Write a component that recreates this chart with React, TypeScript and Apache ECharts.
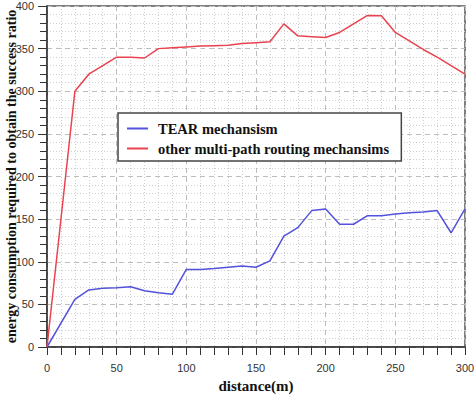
import React, { useEffect, useRef } from "react";
import * as echarts from "echarts";

const distances = [0, 20, 30, 40, 50, 60, 70, 80, 90, 100, 110, 120, 130, 140, 150, 160, 170, 180, 190, 200, 210, 220, 230, 240, 250, 260, 270, 280, 290, 300];
const tearValues = [0, 56, 67, 68.8, 69.6, 70.7, 66, 63.5, 62, 91, 91, 92, 93.5, 95, 93.5, 101, 130, 140, 160, 162, 144, 144, 154, 154, 156, 157.5, 158.5, 160, 134, 162];
const otherValues = [0, 300, 320, 330, 340, 340, 339, 350, 351, 352, 353, 353.5, 354, 356, 357, 358, 379, 365, 364, 363, 369, 379, 389, 388.5, 369, 359, 349, 340, 330, 320];
const seriesNames = ["TEAR mechansism", "other multi-path routing mechansims"];
const xTitle = "distance(m)";
const yTitle = "energy consumption required to obtain the success ratio";

export default function App() {
  const ref = useRef<HTMLDivElement>(null);
  useEffect(() => {
    if (!ref.current) return;
    const chart = echarts.init(ref.current, null, { renderer: "svg" });
    const labelStyle = { fontFamily: "Liberation Sans", fontSize: 11, color: "#333" };
    const nameStyle = { fontFamily: "Liberation Serif", fontWeight: "bold" as const, color: "#111" };
    chart.setOption({
      animation: false,
      backgroundColor: "#fff",
      grid: {
        left: 47,
        right: 9,
        top: 6,
        bottom: 50,
        containLabel: false,
        outerBoundsMode: "none",
        show: true,
        borderColor: "#555",
        borderWidth: 1.5,
        backgroundColor: "transparent",
      },
      legend: {
        show: true,
        orient: "vertical",
        left: 118,
        top: 113,
        padding: [8, 12, 5, 9],
        itemGap: 5,
        itemWidth: 21,
        itemHeight: 2,
        icon: "rect",
        backgroundColor: "#fff",
        borderColor: "#444",
        borderWidth: 1.5,
        borderRadius: 0,
        textStyle: { fontFamily: "Liberation Serif", fontWeight: "bold", fontSize: 14.5, color: "#111", padding: [0, 0, 0, 5] },
        data: seriesNames,
      },
      xAxis: {
        type: "value",
        min: 0,
        max: 300,
        interval: 50,
        name: xTitle,
        nameLocation: "middle",
        nameGap: 31,
        nameMoveOverlap: false,
        nameTextStyle: { ...nameStyle, fontSize: 15 },
        axisLine: { show: true, lineStyle: { color: "#333", width: 1.5 } },
        axisTick: { show: true, inside: false, length: 8, lineStyle: { color: "#333" } },
        minorTick: { show: true, splitNumber: 5, length: 8, lineStyle: { color: "#333" } },
        axisLabel: { ...labelStyle, margin: 15 },
        splitLine: { show: true, lineStyle: { color: "#bdbdbd", type: [5, 4], width: 1 } },
        minorSplitLine: { show: true, lineStyle: { color: "#cfcfcf", type: [1, 2], width: 1 } },
      },
      yAxis: {
        type: "value",
        min: 0,
        max: 400,
        interval: 50,
        name: yTitle,
        nameLocation: "middle",
        nameGap: 29,
        nameMoveOverlap: false,
        nameTextStyle: { ...nameStyle, fontSize: 14 },
        axisLine: { show: true, lineStyle: { color: "#333", width: 1.5 } },
        axisTick: { show: true, inside: false, length: 9, lineStyle: { color: "#333" } },
        minorTick: { show: true, splitNumber: 5, length: 7, lineStyle: { color: "#333" } },
        axisLabel: { ...labelStyle, margin: 13 },
        splitLine: { show: true, lineStyle: { color: "#bdbdbd", type: [5, 4], width: 1 } },
        minorSplitLine: { show: true, lineStyle: { color: "#cfcfcf", type: [1, 2], width: 1 } },
      },
      series: [
        {
          name: seriesNames[0],
          type: "line",
          symbol: "none",
          color: "#5252dc",
          lineStyle: { width: 1.5, color: "#5252dc" },
          data: distances.map((d, i) => [d, tearValues[i]]),
          z: 3,
        },
        {
          name: seriesNames[1],
          type: "line",
          symbol: "none",
          color: "#e8434f",
          lineStyle: { width: 1.5, color: "#e8434f" },
          data: distances.map((d, i) => [d, otherValues[i]]),
          z: 3,
        },
      ],
    });
    return () => chart.dispose();
  }, []);
  return <div ref={ref} style={{ position: "fixed", left: 0, top: 0, width: 474, height: 397 }} />;
}
